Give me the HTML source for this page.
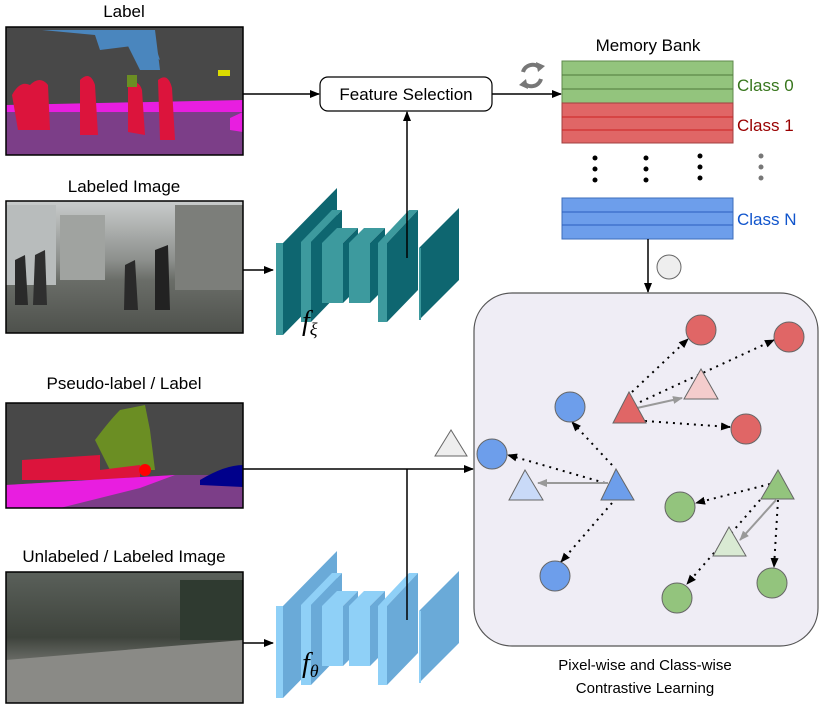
<!DOCTYPE html>
<html><head><meta charset="utf-8"><style>
html,body{margin:0;padding:0;background:#fff;}
svg{display:block;}
text{font-family:"Liberation Sans",sans-serif;}
</style></head><body>
<svg width="828" height="714" viewBox="0 0 828 714" xmlns="http://www.w3.org/2000/svg">
<defs>
<marker id="ah" markerWidth="10" markerHeight="8" refX="9" refY="4" orient="auto" markerUnits="userSpaceOnUse"><path d="M0,0 L10,4 L0,8 z" fill="#000"/></marker>
<marker id="ag" markerWidth="10" markerHeight="8" refX="9" refY="4" orient="auto" markerUnits="userSpaceOnUse"><path d="M0,0 L10,4 L0,8 z" fill="#999"/></marker>
<linearGradient id="ph1" x1="0" y1="0" x2="0" y2="1"><stop offset="0" stop-color="#c9cccc"/><stop offset="0.45" stop-color="#8c8f8c"/><stop offset="0.6" stop-color="#6a6d68"/><stop offset="1" stop-color="#4e514c"/></linearGradient>
<linearGradient id="ph2" x1="0" y1="0" x2="0" y2="1"><stop offset="0" stop-color="#5a605a"/><stop offset="0.5" stop-color="#3e433c"/><stop offset="0.7" stop-color="#6f716c"/><stop offset="1" stop-color="#8a8a86"/></linearGradient>
</defs>

<!-- Titles -->
<text x="124" y="17" font-size="17" text-anchor="middle">Label</text>
<text x="124" y="192" font-size="17" text-anchor="middle">Labeled Image</text>
<text x="124" y="389" font-size="17" text-anchor="middle">Pseudo-label / Label</text>
<text x="124" y="562" font-size="17" text-anchor="middle">Unlabeled / Labeled Image</text>

<!-- Label image -->
<g>
<rect x="6" y="27" width="237" height="128" fill="#484848"/>
<path d="M42,30 L150,30 L160,60 L140,45 L100,50 L95,35 Z" fill="#4a86be"/>
<path d="M120,30 L155,30 L160,70 L140,70 Z" fill="#4a86be"/>
<rect x="6" y="107" width="237" height="48" fill="#7c3e88"/>
<path d="M6,105 L243,100 L243,112 L6,112Z" fill="#e81ee0"/>
<path d="M12,95 Q20,80 30,85 Q40,75 48,85 L50,130 L18,130 Z" fill="#dc143c"/>
<path d="M80,80 Q90,70 95,85 L98,135 L80,135 Z" fill="#dc143c"/>
<path d="M128,85 Q138,78 142,90 L145,135 L128,132 Z" fill="#dc143c"/>
<path d="M158,80 Q168,72 172,88 L175,140 L160,140 Z" fill="#dc143c"/>
<path d="M230,118 L243,112 L243,132 L230,130Z" fill="#e81ee0"/>
<rect x="127" y="75" width="10" height="12" fill="#6b8e23"/>
<rect x="218" y="70" width="12" height="6" fill="#dcdc00"/>
<rect x="6" y="27" width="237" height="128" fill="none" stroke="#000" stroke-width="1.5"/>
</g>

<!-- Labeled image (photo) -->
<g>
<rect x="6" y="201" width="237" height="132" fill="url(#ph1)"/>
<rect x="6" y="205" width="50" height="80" fill="#b8bcbc"/>
<rect x="175" y="205" width="68" height="85" fill="#7c7e7a"/>
<rect x="60" y="215" width="45" height="65" fill="#a0a3a0"/>
<path d="M15,260 L25,255 L28,305 L15,305Z" fill="#2a2a2a"/>
<path d="M35,255 L45,250 L47,305 L33,305Z" fill="#2f2f2f"/>
<path d="M125,265 L135,260 L138,310 L124,310Z" fill="#2a2a2a"/>
<path d="M155,250 L168,245 L170,310 L155,310Z" fill="#222"/>
<rect x="6" y="201" width="237" height="132" fill="none" stroke="#000" stroke-width="1.5"/>
</g>

<!-- Pseudo label -->
<g>
<rect x="6" y="403" width="237" height="105" fill="#484848"/>
<path d="M95,440 Q110,420 120,410 L145,405 L150,430 L155,470 L110,470 Z" fill="#6b8e23"/>
<path d="M22,460 L100,455 L100,480 L22,480 Z" fill="#dc143c"/>
<path d="M100,470 L140,465 L140,480 L100,480Z" fill="#dc143c"/>
<path d="M6,485 L175,475 L243,475 L243,508 L6,508Z" fill="#7c3e88"/>
<path d="M6,485 L175,475 L140,488 L60,508 L6,508Z" fill="#e81ee0"/>
<path d="M200,480 Q225,465 243,465 L243,487 L200,485Z" fill="#00008b"/>
<circle cx="145" cy="470" r="6" fill="#ff0000"/>
<rect x="6" y="403" width="237" height="105" fill="none" stroke="#000" stroke-width="1.5"/>
</g>

<!-- Unlabeled image -->
<g>
<rect x="6" y="572" width="237" height="131" fill="url(#ph2)"/>
<path d="M6,660 L243,640 L243,703 L6,703Z" fill="#8a8a86"/>
<rect x="180" y="580" width="63" height="60" fill="#2f3a30"/>
<rect x="6" y="572" width="237" height="131" fill="none" stroke="#000" stroke-width="1.5"/>
</g>

<!-- Feature selection -->
<rect x="320" y="77" width="172" height="34" rx="8" fill="#fff" stroke="#000" stroke-width="1.2"/>
<text x="406" y="100" font-size="17" text-anchor="middle">Feature Selection</text>
<line x1="243" y1="94" x2="319" y2="94" stroke="#000" stroke-width="1.5" marker-end="url(#ah)"/>
<line x1="492" y1="94" x2="561" y2="94" stroke="#000" stroke-width="1.5" marker-end="url(#ah)"/>

<!-- refresh icon -->
<g fill="none" stroke="#777" stroke-width="4">
<path d="M523,72 A10,10 0 0 1 540,68"/>
<path d="M541,79 A10,10 0 0 1 524,83"/>
</g>
<path d="M536,62 L545,66 L538,72Z" fill="#777"/>
<path d="M528,89 L519,85 L526,79Z" fill="#777"/>

<!-- Memory bank -->
<text x="648" y="51" font-size="17" text-anchor="middle">Memory Bank</text>
<rect x="562" y="61" width="171" height="42" fill="#93c47d" stroke="#5f8a4c"/>
<line x1="562" y1="75" x2="733" y2="75" stroke="#4f7a3c"/>
<line x1="562" y1="89" x2="733" y2="89" stroke="#4f7a3c"/>
<rect x="562" y="103" width="171" height="40" fill="#e06666" stroke="#a04040"/>
<line x1="562" y1="117" x2="733" y2="117" stroke="#cc2222"/>
<line x1="562" y1="130" x2="733" y2="130" stroke="#cc2222"/>
<text x="737" y="91" font-size="17" fill="#38761d">Class 0</text>
<text x="737" y="131" font-size="17" fill="#990000">Class 1</text>
<g fill="#000">
<circle cx="595" cy="158" r="2.5"/><circle cx="595" cy="169" r="2.5"/><circle cx="595" cy="180" r="2.5"/>
<circle cx="646" cy="158" r="2.5"/><circle cx="646" cy="169" r="2.5"/><circle cx="646" cy="180" r="2.5"/>
<circle cx="700" cy="156" r="2.5"/><circle cx="700" cy="167" r="2.5"/><circle cx="700" cy="178" r="2.5"/>
</g>
<g fill="#777"><circle cx="761" cy="156" r="2.5"/><circle cx="761" cy="167" r="2.5"/><circle cx="761" cy="178" r="2.5"/></g>
<rect x="562" y="198" width="171" height="41" fill="#6d9eeb" stroke="#3d6ebb"/>
<line x1="562" y1="212" x2="733" y2="212" stroke="#2a5fbf"/>
<line x1="562" y1="225" x2="733" y2="225" stroke="#2a5fbf"/>
<text x="737" y="225" font-size="17" fill="#1155cc">Class N</text>
<line x1="648" y1="239" x2="648" y2="292" stroke="#000" stroke-width="1.5" marker-end="url(#ah)"/>
<circle cx="669" cy="267" r="12" fill="#eee" stroke="#666"/>

<!-- Networks -->
<g id="net1">
<polygon points="283,243 337,188 337,280 283,335" fill="#0e6670"/>
<rect x="276" y="243" width="7" height="92" fill="#3d9a9e"/>
<polygon points="301,242 332,210 342,210 311,242" fill="#3d9a9e"/>
<polygon points="311,242 342,210 342,290 311,322" fill="#0e6670"/>
<rect x="301" y="242" width="10" height="80" fill="#3d9a9e"/>
<polygon points="322,243 337,228 358,228 343,243" fill="#3d9a9e"/>
<polygon points="343,243 358,228 358,288 343,303" fill="#0e6670"/>
<rect x="322" y="243" width="21" height="60" fill="#3d9a9e"/>
<polygon points="349,243 364,228 385,228 370,243" fill="#3d9a9e"/>
<polygon points="370,243 385,228 385,288 370,303" fill="#0e6670"/>
<rect x="349" y="243" width="21" height="60" fill="#3d9a9e"/>
<polygon points="378,243 409,210 418,210 387,243" fill="#3d9a9e"/>
<polygon points="387,243 418,210 418,290 387,322" fill="#0e6670"/>
<rect x="378" y="243" width="9" height="79" fill="#3d9a9e"/>
<polygon points="419,248 459,208 459,280 419,320" fill="#0e6670"/>
<rect x="419" y="248" width="2" height="72" fill="#3d9a9e"/>
</g>
<g transform="translate(0,363)">
<polygon points="283,243 337,188 337,280 283,335" fill="#6aaad8"/>
<rect x="276" y="243" width="7" height="92" fill="#8fd0f7"/>
<polygon points="301,242 332,210 342,210 311,242" fill="#8fd0f7"/>
<polygon points="311,242 342,210 342,290 311,322" fill="#6aaad8"/>
<rect x="301" y="242" width="10" height="80" fill="#8fd0f7"/>
<polygon points="322,243 337,228 358,228 343,243" fill="#8fd0f7"/>
<polygon points="343,243 358,228 358,288 343,303" fill="#6aaad8"/>
<rect x="322" y="243" width="21" height="60" fill="#8fd0f7"/>
<polygon points="349,243 364,228 385,228 370,243" fill="#8fd0f7"/>
<polygon points="370,243 385,228 385,288 370,303" fill="#6aaad8"/>
<rect x="349" y="243" width="21" height="60" fill="#8fd0f7"/>
<polygon points="378,243 409,210 418,210 387,243" fill="#8fd0f7"/>
<polygon points="387,243 418,210 418,290 387,322" fill="#6aaad8"/>
<rect x="378" y="243" width="9" height="79" fill="#8fd0f7"/>
<polygon points="419,248 459,208 459,280 419,320" fill="#6aaad8"/>
<rect x="419" y="248" width="2" height="72" fill="#8fd0f7"/>
</g>
<text x="302" y="330" font-size="28" font-style="italic" font-family="Liberation Serif, serif" style="font-family:'Liberation Serif',serif">f<tspan font-size="18" dy="5">ξ</tspan></text>
<text x="302" y="672" font-size="28" font-style="italic" style="font-family:'Liberation Serif',serif">f<tspan font-size="18" dy="5">θ</tspan></text>

<line x1="243" y1="270" x2="273" y2="270" stroke="#000" stroke-width="1.5" marker-end="url(#ah)"/>
<line x1="243" y1="643" x2="273" y2="643" stroke="#000" stroke-width="1.5" marker-end="url(#ah)"/>
<line x1="407" y1="258" x2="407" y2="112" stroke="#000" stroke-width="1.5" marker-end="url(#ah)"/>
<line x1="407" y1="620" x2="407" y2="469" stroke="#000" stroke-width="1.5"/>
<line x1="243" y1="469" x2="473" y2="469" stroke="#000" stroke-width="1.5" marker-end="url(#ah)"/>
<polygon points="451,430 435,456 467,456" fill="#eee" stroke="#666"/>

<!-- Panel -->
<rect x="474" y="293" width="344" height="353" rx="38" fill="#efedf5" stroke="#555" stroke-width="1.2"/>

<g stroke="#000" stroke-width="2" stroke-dasharray="2,5" fill="none" marker-end="url(#ah)">
<line x1="632" y1="392" x2="688" y2="339"/>
<line x1="640" y1="402" x2="774" y2="340"/>
<line x1="645" y1="421" x2="730" y2="427"/>
<line x1="612" y1="465" x2="572" y2="422"/>
<line x1="605" y1="483" x2="508" y2="455"/>
<line x1="612" y1="503" x2="561" y2="562"/>
<line x1="770" y1="484" x2="696" y2="503"/>
<line x1="778" y1="500" x2="774" y2="567"/>
<line x1="760" y1="500" x2="687" y2="584"/>
</g>
<g stroke="#999" stroke-width="2" fill="none" marker-end="url(#ag)">
<line x1="637" y1="408" x2="682" y2="398"/>
<line x1="608" y1="483" x2="538" y2="483"/>
<line x1="776" y1="500" x2="740" y2="540"/>
</g>

<g stroke="#666" stroke-width="1">
<circle cx="701" cy="330" r="15" fill="#e06666"/>
<circle cx="789" cy="337" r="15" fill="#e06666"/>
<circle cx="746" cy="429" r="15" fill="#e06666"/>
<polygon points="629,392 613,423 646,423" fill="#e06666"/>
<polygon points="701,369 684,399 718,399" fill="#f4cccc"/>
<circle cx="570" cy="407" r="15" fill="#6d9eeb"/>
<circle cx="492" cy="454" r="15" fill="#6d9eeb"/>
<circle cx="555" cy="576" r="15" fill="#6d9eeb"/>
<polygon points="616,469 601,500 634,500" fill="#6d9eeb"/>
<polygon points="525,470 509,500 543,500" fill="#c9daf8"/>
<circle cx="680" cy="507" r="15" fill="#93c47d"/>
<circle cx="772" cy="583" r="15" fill="#93c47d"/>
<circle cx="677" cy="598" r="15" fill="#93c47d"/>
<polygon points="778,470 761,499 794,499" fill="#93c47d"/>
<polygon points="729,527 713,556 746,556" fill="#d9ead3"/>
</g>

<text x="645" y="670" font-size="15" text-anchor="middle">Pixel-wise and Class-wise</text>
<text x="645" y="693" font-size="15" text-anchor="middle">Contrastive Learning</text>
</svg>
</body></html>
